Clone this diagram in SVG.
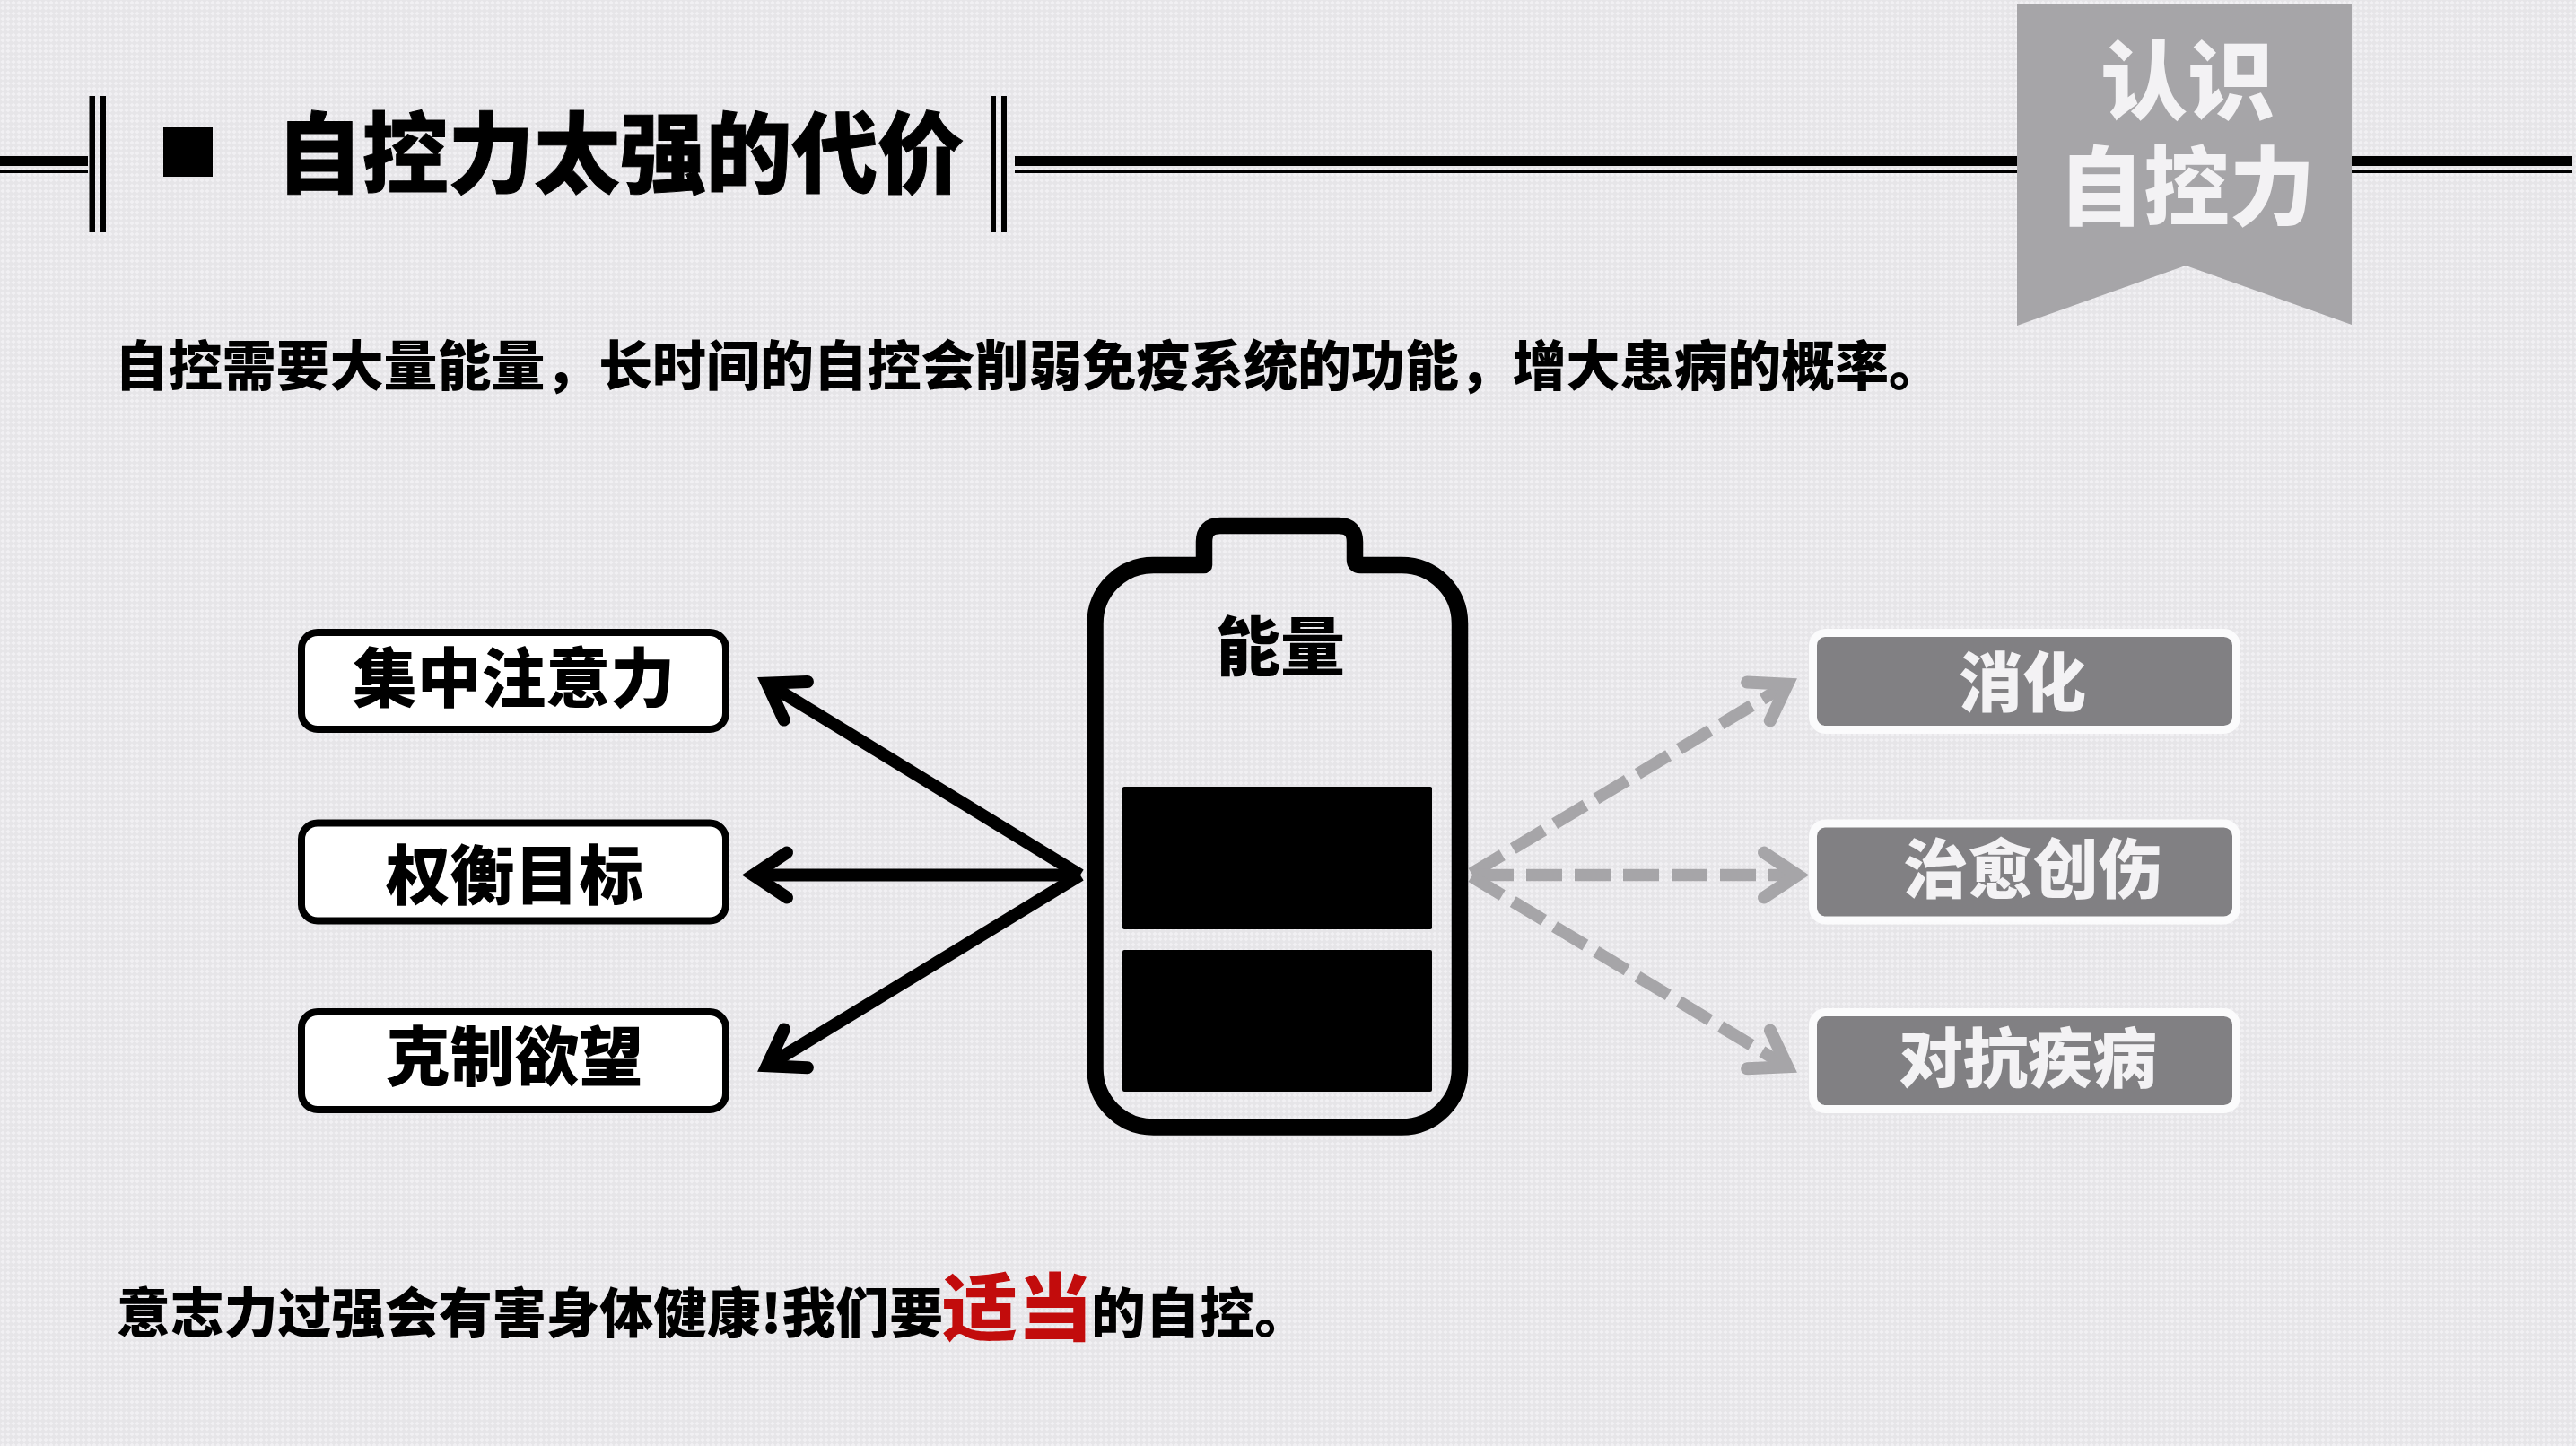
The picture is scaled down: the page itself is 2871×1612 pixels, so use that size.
<svg xmlns="http://www.w3.org/2000/svg" width="2871" height="1612" viewBox="0 0 2871 1612">
<style>
text{font-family:"Noto Sans CJK SC","Noto Sans",sans-serif;font-weight:900;fill:#000}
.w{fill:#f3f2f4}
.bk{fill:#fff;stroke:#000;stroke-width:8}
.gr{fill:#818083;stroke:#fbfbfc;stroke-width:9}
.al{fill:none;stroke:#000;stroke-width:14}
.ad{fill:none;stroke:#a6a5a8;stroke-width:13.500;stroke-dasharray:40 14}
</style>
<defs>
<pattern id="tex" width="6" height="6" patternUnits="userSpaceOnUse">
<rect width="6" height="6" fill="#e6e5e8"/>
<path d="M3 .4L5.600 3L3 5.600L.4 3Z" fill="#f1f0f3"/>
</pattern>
<marker id="ah" markerUnits="userSpaceOnUse" viewBox="-60 -40 100 80" markerWidth="100" markerHeight="80" refX="0" refY="0" orient="auto" overflow="visible">
<path d="M-35 -25 L2.500 0 L-35 25" fill="none" stroke="#000" stroke-width="14" stroke-linecap="round" stroke-linejoin="miter"/>
</marker>
<marker id="ag" markerUnits="userSpaceOnUse" viewBox="-60 -40 100 80" markerWidth="100" markerHeight="80" refX="0" refY="0" orient="auto" overflow="visible">
<path d="M-35 -25 L2.500 0 L-35 25" fill="none" stroke="#a6a5a8" stroke-width="14" stroke-linecap="round" stroke-linejoin="miter"/>
</marker>
</defs>
<rect id="background" width="2871" height="1612" fill="url(#tex)"/>

<g id="title-rule">
<rect x="0" y="174" width="98" height="11"/>
<rect x="0" y="189" width="98" height="4"/>
<rect x="99.500" y="107" width="6.500" height="152"/>
<rect x="112" y="107" width="6" height="152"/>
<rect x="1104" y="107" width="6" height="152"/>
<rect x="1116" y="107" width="6" height="152"/>
<rect x="1131" y="174" width="1735" height="11"/>
<rect x="1131" y="189" width="1735" height="4"/>
<rect x="182" y="142" width="55" height="55"/>
</g>
<g id="title"><text x="308" y="207" font-size="98" textLength="766" lengthAdjust="spacingAndGlyphs" style="stroke:#000;stroke-width:1px">自控力太强的代价</text></g>

<g id="ribbon">
<path d="M2248 4H2621V362L2436 296L2248 363Z" fill="#a6a5a8"/>
<text class="w" font-size="96"><tspan x="2341" y="125" textLength="194" lengthAdjust="spacingAndGlyphs">认识</tspan><tspan x="2294" y="243" textLength="286" lengthAdjust="spacingAndGlyphs">自控力</tspan></text>
</g>

<g id="intro"><text x="128" y="430" font-size="60" textLength="2037" lengthAdjust="spacingAndGlyphs">自控需要大量能量，长时间的自控会削弱免疫系统的功能，增大患病的概率。</text></g>

<g id="connectors">
<path class="al" marker-end="url(#ah)" d="M1204 975.500L857 763"/>
<path class="al" marker-end="url(#ah)" d="M1204 975.500H842"/>
<path class="al" marker-end="url(#ah)" d="M1204 975.500L857 1187"/>
<path class="ad" marker-end="url(#ag)" d="M1640 973.700L1990 764"/>
<path class="ad" marker-end="url(#ag)" d="M1647 975.500H2001"/>
<path class="ad" marker-end="url(#ag)" d="M1640 977.300L1990 1188"/>
</g>

<g id="battery">
<path d="M1342 630V604Q1342 586 1360 586H1492Q1510 586 1510 604V624Q1510 630 1516 630H1562A65 65 0 0 1 1627 695V1191.500A65 65 0 0 1 1562 1256.500H1285.500A65 65 0 0 1 1220.500 1191.500V695A65 65 0 0 1 1285.500 630H1336Q1342 630 1342 624Z" fill="none" stroke="#000" stroke-width="18.500" stroke-linejoin="round"/>
<rect x="1251" y="877" width="345" height="159" rx="2"/>
<rect x="1251" y="1059" width="345" height="158" rx="2"/>
<text x="1355" y="747" font-size="72" textLength="144" lengthAdjust="spacingAndGlyphs">能量</text>
</g>

<g id="node-focus"><rect class="bk" x="336" y="705" width="473" height="108" rx="18"/><text x="393" y="782" font-size="72" textLength="359" lengthAdjust="spacingAndGlyphs">集中注意力</text></g>
<g id="node-tradeoff"><rect class="bk" x="336" y="917.500" width="473" height="109" rx="18"/><text x="430" y="1002" font-size="72" textLength="287" lengthAdjust="spacingAndGlyphs">权衡目标</text></g>
<g id="node-desire"><rect class="bk" x="336" y="1128" width="473" height="109" rx="18"/><text x="430" y="1204" font-size="72" textLength="287" lengthAdjust="spacingAndGlyphs">克制欲望</text></g>

<g id="node-digest"><rect class="gr" x="2020.500" y="705.500" width="472" height="108" rx="14"/><text class="w" x="2183" y="787" font-size="72" textLength="142" lengthAdjust="spacingAndGlyphs">消化</text></g>
<g id="node-heal"><rect class="gr" x="2020.500" y="918" width="472" height="108" rx="14"/><text class="w" x="2121" y="995" font-size="72" textLength="290" lengthAdjust="spacingAndGlyphs">治愈创伤</text></g>
<g id="node-immune"><rect class="gr" x="2020.500" y="1128.500" width="472" height="108" rx="14"/><text class="w" x="2116" y="1206" font-size="72" textLength="288" lengthAdjust="spacingAndGlyphs">对抗疾病</text></g>

<g id="conclusion">
<text x="130" y="1486" font-size="60" textLength="921" lengthAdjust="spacingAndGlyphs">意志力过强会有害身体健康!我们要</text>
<text x="1050" y="1488" font-size="82" textLength="168" lengthAdjust="spacingAndGlyphs" style="fill:#c20c0c">适当</text>
<text x="1216" y="1486" font-size="60" textLength="243" lengthAdjust="spacingAndGlyphs">的自控。</text>
</g>
</svg>
